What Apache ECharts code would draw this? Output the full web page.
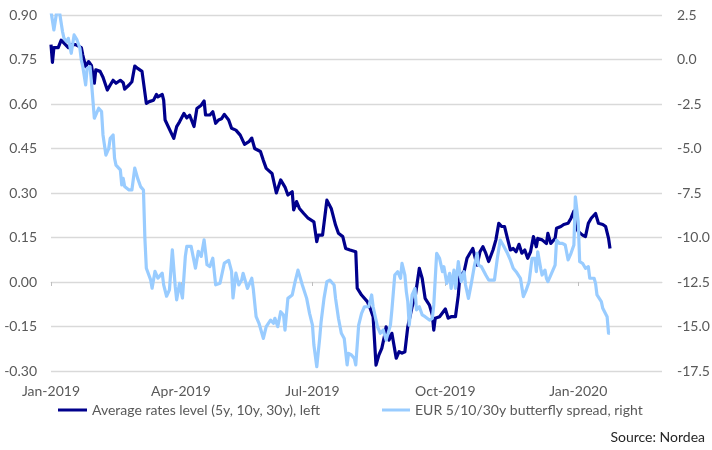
<!DOCTYPE html>
<html>
<head>
<meta charset="utf-8">
<script src="https://cdn.jsdelivr.net/npm/echarts@6/dist/echarts.min.js"></script>
<style>
  html, body { margin: 0; padding: 0; background: #fff; }
  #chart { width: 712px; height: 450px; }
</style>
</head>
<body>
<div id="chart"></div>
<script>
// x values are days since 1 Jan 2019
const quarterDays = [0, 90, 181, 273, 365];
const quarterLabels = ['Jan-2019', 'Apr-2019', 'Jul-2019', 'Oct-2019', 'Jan-2020'];

const rateName = 'Average rates level (5y, 10y, 30y), left';
const flyName = 'EUR 5/10/30y butterfly spread, right';

// Average rates level, left axis
const rateDays = [0, 1, 2, 5, 7, 10, 12, 14, 17, 21, 22, 24, 26, 28, 30, 31, 34, 36, 39, 41,
    43, 45, 48, 50, 51, 54, 56, 58, 60, 63, 66, 68, 71, 73, 74, 77, 78, 79, 85, 87,
    89, 92, 94, 96, 99, 101, 104, 106, 107, 110, 112, 114, 116, 118, 120, 123, 125, 128, 131, 134,
    137, 139, 141, 145, 147, 149, 153, 156, 159, 162, 164, 167, 168, 170, 172, 175, 178, 182, 184, 185,
    188, 190, 191, 194, 197, 199, 202, 204, 207, 211, 212, 215, 219, 221, 223, 225, 227, 229, 231, 232,
    234, 236, 239, 241, 243, 245, 247, 250, 252, 255, 257, 259, 262, 264, 265, 266, 269, 273, 275, 277,
    280, 282, 283, 286, 288, 290, 292, 295, 297, 299, 301, 303, 306, 308, 310, 312, 314, 316, 318, 320,
    322, 324, 326, 328, 330, 332, 334, 336, 337, 340, 343, 344, 346, 349, 350, 353, 355, 358, 360, 362,
    363, 365, 368, 370, 372, 374, 377, 379, 382, 384, 386, 387];
const rateLevel = [0.80, 0.74, 0.79, 0.79, 0.815, 0.80, 0.79, 0.80, 0.80, 0.79, 0.765, 0.726, 0.743, 0.73, 0.67, 0.715, 0.71, 0.69, 0.647, 0.664,
    0.68, 0.67, 0.68, 0.672, 0.65, 0.664, 0.675, 0.728, 0.72, 0.71, 0.602, 0.608, 0.613, 0.632, 0.624, 0.632, 0.613, 0.546, 0.484, 0.524,
    0.54, 0.568, 0.553, 0.562, 0.524, 0.585, 0.596, 0.61, 0.563, 0.563, 0.574, 0.535, 0.546, 0.55, 0.565, 0.546, 0.518, 0.512, 0.495, 0.464,
    0.473, 0.485, 0.45, 0.44, 0.41, 0.383, 0.366, 0.30, 0.344, 0.32, 0.293, 0.304, 0.243, 0.271, 0.248, 0.231, 0.215, 0.203, 0.136, 0.158,
    0.158, 0.237, 0.276, 0.248, 0.192, 0.164, 0.153, 0.113, 0.108, 0.102, -0.021, -0.044, -0.066, -0.089, -0.117, -0.28, -0.246, -0.224, -0.179, -0.151,
    -0.196, -0.173, -0.257, -0.235, -0.24, -0.235, -0.151, -0.083, -0.055, 0.046, 0.012, -0.055, -0.078, -0.111, -0.162, -0.122, -0.117, -0.091, -0.122, -0.117,
    -0.117, -0.044, 0.018, 0.035, 0.080, 0.097, 0.113, 0.057, 0.102, 0.119, 0.097, 0.069, 0.108, 0.142, 0.198, 0.187, 0.187, 0.147, 0.108, 0.113,
    0.102, 0.127, 0.097, 0.108, 0.080, 0.102, 0.153, 0.119, 0.147, 0.142, 0.130, 0.164, 0.130, 0.147, 0.181, 0.187, 0.194, 0.198, 0.215, 0.239,
    0.192, 0.170, 0.158, 0.153, 0.198, 0.215, 0.231, 0.198, 0.194, 0.187, 0.147, 0.113];

// EUR 5/10/30y butterfly spread, right axis
const flyDays = [0, 2, 4, 6, 8, 9, 11, 12, 14, 16, 18, 20, 21, 22, 24, 25, 27, 28, 30, 32,
    33, 35, 36, 38, 40, 41, 43, 44, 45, 48, 49, 50, 51, 54, 56, 58, 60, 62, 64, 65,
    66, 69, 70, 72, 74, 77, 78, 80, 82, 84, 86, 87, 89, 91, 93, 94, 97, 100, 102, 104,
    106, 108, 110, 112, 114, 117, 120, 123, 125, 126, 128, 130, 132, 133, 136, 139, 140, 142, 144, 147,
    149, 152, 154, 155, 157, 159, 161, 162, 164, 167, 169, 171, 172, 174, 175, 177, 179, 181, 182, 184,
    186, 187, 189, 191, 193, 196, 197, 199, 201, 203, 205, 206, 208, 210, 211, 213, 215, 217, 220, 222,
    223, 226, 228, 230, 232, 235, 236, 238, 240, 242, 243, 245, 246, 247, 248, 250, 252, 253, 255, 257,
    259, 262, 264, 265, 267, 269, 271, 272, 274, 276, 277, 279, 280, 282, 284, 286, 287, 289, 291, 293,
    295, 296, 298, 301, 303, 305, 307, 309, 311, 313, 316, 318, 320, 322, 325, 327, 329, 331, 333, 335,
    336, 337, 339, 340, 342, 343, 344, 346, 349, 350, 352, 354, 356, 358, 360, 362, 363, 364, 365, 366,
    368, 370, 372, 373, 376, 377, 378, 381, 382, 385, 386, 387];
const flySpread = [2.7, 1.66, 2.7, 2.6, 1.56, 1.19, 1.0, 1.19, 0.35, 1.38, 1.1, 0.63, -0.03, -0.4, -1.43, -0.5, -0.4, -1.25, -3.3, -2.93,
    -2.74, -2.93, -4.24, -5.37, -4.99, -4.43, -4.24, -5.55, -5.93, -6.2, -7.05, -6.68, -7.14, -7.33, -7.33, -6.1, -6.68, -7.14, -7.33, -10.05,
    -11.73, -12.38, -12.85, -11.9, -12.28, -12.0, -12.66, -13.3, -12.94, -10.7, -12.75, -13.5, -12.57, -13.4, -11.06, -10.5, -10.5, -11.72, -10.78, -11.06,
    -10.13, -11.53, -11.63, -11.16, -12.66, -12.57, -11.44, -11.29, -11.9, -13.4, -12.0, -12.66, -12.39, -12.01, -12.86, -12.29, -12.86, -14.45, -14.82, -15.67,
    -15.01, -14.64, -14.82, -14.54, -15.01, -14.17, -14.36, -15.2, -13.42, -13.23, -12.48, -11.83, -11.92, -12.67, -12.67, -13.42, -14.26, -14.92, -16.04, -17.26,
    -15.67, -14.73, -13.42, -12.48, -12.39, -12.67, -13.42, -14.54, -15.38, -15.67, -17.16, -16.51, -16.6, -16.79, -17.16, -14.92, -14.26, -13.89, -13.89, -13.23,
    -13.89, -15.01, -15.38, -15.2, -15.76, -14.92, -14.07, -12.11, -11.92, -12.29, -11.45, -12.11, -13.04, -13.6, -14.92, -13.23, -12.86, -14.07, -13.89, -14.35,
    -14.45, -14.64, -14.54, -13.79, -10.89, -11.17, -11.92, -11.64, -12.58, -12.01, -12.86, -11.83, -12.86, -11.36, -12.48, -11.92, -12.67, -13.42, -12.58, -11.64,
    -10.89, -11.55, -11.64, -12.11, -12.39, -12.39, -12.39, -11.17, -10.14, -10.42, -10.89, -11.26, -11.73, -11.92, -12.29, -13.32, -12.95, -12.48, -11.17, -11.17,
    -11.92, -10.8, -11.73, -12.11, -11.83, -12.29, -12.48, -12.11, -11.55, -10.14, -10.33, -10.33, -10.42, -11.26, -10.89, -10.42, -7.71, -7.71, -9.11, -11.36,
    -11.45, -11.73, -11.64, -12.29, -12.29, -12.58, -13.23, -13.6, -13.98, -14.45, -15.38, -15.38];

const FONT = 'Lato, "Open Sans", sans-serif';
const GREY_TEXT = '#595959';

const chart = echarts.init(document.getElementById('chart'), null, { renderer: 'canvas' });

function pairs(xs, ys) {
    return xs.map((x, i) => [x, ys[i]]);
}

function fixed(v, d) {
    if (Math.abs(v) < 1e-9) v = 0;
    return v.toFixed(d);
}

const labelStyle = { color: GREY_TEXT, fontFamily: FONT, fontSize: 14 };

const option = {
    animation: false,
    backgroundColor: '#fff',
    grid: { left: 51, right: 50, top: 15, bottom: 79, containLabel: false, outerBoundsMode: 'none' },
    xAxis: [
        {
            // axis line sitting on the zero line, ticks only
            type: 'value', min: 0, max: 423, position: 'bottom',
            axisLine: { show: true, onZero: true, lineStyle: { color: '#d9d9d9', width: 1 } },
            axisTick: { show: true, length: 4, customValues: quarterDays, lineStyle: { color: '#bfbfbf' } },
            axisLabel: { show: false },
            splitLine: { show: false }
        },
        {
            // labels at the bottom of the plot
            type: 'value', min: 0, max: 423, position: 'bottom',
            axisLine: { show: false, onZero: false },
            axisTick: { show: false },
            axisLabel: Object.assign({
                customValues: quarterDays,
                margin: 13,
                formatter: v => quarterLabels[quarterDays.indexOf(v)] || ''
            }, labelStyle),
            splitLine: { show: false }
        }
    ],
    yAxis: [
        {
            type: 'value', position: 'left', min: -0.3, max: 0.9, interval: 0.15,
            axisLine: { show: false }, axisTick: { show: false },
            axisLabel: Object.assign({ margin: 14, formatter: v => fixed(v, 2) }, labelStyle),
            splitLine: { show: true, lineStyle: { color: '#d9d9d9', width: 1.3 } }
        },
        {
            type: 'value', position: 'right', min: -17.5, max: 2.5, interval: 2.5,
            axisLine: { show: false }, axisTick: { show: false },
            axisLabel: Object.assign({ margin: 15, formatter: v => fixed(v, 1) }, labelStyle),
            splitLine: { show: false }
        }
    ],
    legend: [
        {
            data: [rateName], left: 58, top: 403, padding: 0, icon: 'rect',
            itemWidth: 29, itemHeight: 3, itemGap: 0,
            textStyle: labelStyle
        },
        {
            data: [flyName], left: 382, top: 403, padding: 0, icon: 'rect',
            itemWidth: 28, itemHeight: 3, itemGap: 0,
            textStyle: labelStyle
        }
    ],
    graphic: [
        {
            type: 'text', right: 7, top: 430,
            style: { text: 'Source: Nordea', fill: '#262626', font: '14px ' + FONT }
        }
    ],
    series: [
        {
            name: rateName, type: 'line', xAxisIndex: 0, yAxisIndex: 0,
            data: pairs(rateDays, rateLevel),
            showSymbol: false, symbol: 'none',
            lineStyle: { color: '#00008C', width: 3.2, join: 'round' },
            itemStyle: { color: '#00008C' }
        },
        {
            name: flyName, type: 'line', xAxisIndex: 0, yAxisIndex: 1,
            data: pairs(flyDays, flySpread),
            showSymbol: false, symbol: 'none',
            lineStyle: { color: '#99CCFF', width: 3.2, join: 'round' },
            itemStyle: { color: '#99CCFF' }
        }
    ]
};

chart.setOption(option);

window.addEventListener('resize', function () {
    chart.resize();
});
</script>
</body>
</html>
